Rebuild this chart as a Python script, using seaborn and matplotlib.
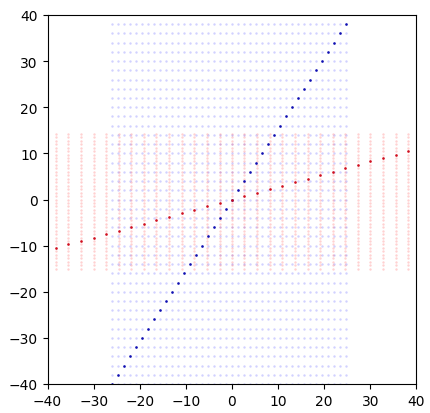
import numpy as np
import pandas as pd
import matplotlib
matplotlib.use("Agg")
import matplotlib.pyplot as plt
import seaborn as sns

# grid coordinates
blue_x = [-26.0, -24.7, -23.4, -22.1, -20.8, -19.5, -18.2, -16.9, -15.6, -14.3,
          -13.0, -11.7, -10.4, -9.1, -7.8, -6.5, -5.2, -3.9, -2.6, -1.3,
          0.0, 1.3, 2.6, 3.9, 5.2, 6.5, 7.8, 9.1, 10.4, 11.7,
          13.0, 14.3, 15.6, 16.9, 18.2, 19.5, 20.8, 22.1, 23.4, 24.7]
blue_y = [-40, -38, -36, -34, -32, -30, -28, -26, -24, -22,
          -20, -18, -16, -14, -12, -10, -8, -6, -4, -2,
          0, 2, 4, 6, 8, 10, 12, 14, 16, 18,
          20, 22, 24, 26, 28, 30, 32, 34, 36, 38]
red_x = [-38.2, -35.5, -32.8, -30.0, -27.3, -24.6, -21.8, -19.1, -16.4, -13.7,
         -10.9, -8.2, -5.5, -2.7, 0.0, 2.7, 5.5, 8.2, 10.9, 13.7,
         16.4, 19.1, 21.8, 24.6, 27.3, 30.0, 32.8, 35.5, 38.2]
red_y = [-15.0, -14.25, -13.5, -12.75, -12.0, -11.25, -10.5, -9.75, -9.0, -8.25,
         -7.5, -6.75, -6.0, -5.25, -4.5, -3.75, -3.0, -2.25, -1.5, -0.75,
         0.0, 0.75, 1.5, 2.25, 3.0, 3.75, 4.5, 5.25, 6.0, 6.75,
         7.5, 8.25, 9.0, 9.75, 10.5, 11.25, 12.0, 12.75, 13.5, 14.25]

# highlighted diagonal points
blue_line_x = blue_x
blue_line_y = blue_y
red_line_x = red_x
red_line_y = red_y[6:35]

blue_grid = pd.DataFrame([(x, y) for x in blue_x for y in blue_y], columns=["x", "y"])
red_grid = pd.DataFrame([(x, y) for x in red_x for y in red_y], columns=["x", "y"])

fig = plt.figure(figsize=(4.3, 4.14), dpi=100)
ax = fig.add_axes([47 / 430, 29 / 414, 370 / 430, 369 / 414])

sns.scatterplot(data=blue_grid, x="x", y="y", color="blue", alpha=0.18, s=3,
                linewidth=0, ax=ax)
sns.scatterplot(data=red_grid, x="x", y="y", color="red", alpha=0.18, s=3,
                linewidth=0, ax=ax)
sns.scatterplot(x=blue_line_x, y=blue_line_y, color="#1010b0", s=3.5, linewidth=0, ax=ax)
sns.scatterplot(x=red_line_x, y=red_line_y, color="#d01020", s=3.5, linewidth=0, ax=ax)

ax.set_xlim(-40, 40)
ax.set_ylim(-40, 40)
ax.set_aspect("equal")
ax.set_xticks(range(-40, 41, 10))
ax.set_yticks(range(-40, 41, 10))
ax.set_xlabel("")
ax.set_ylabel("")

fig.savefig("out.png", dpi=100)
